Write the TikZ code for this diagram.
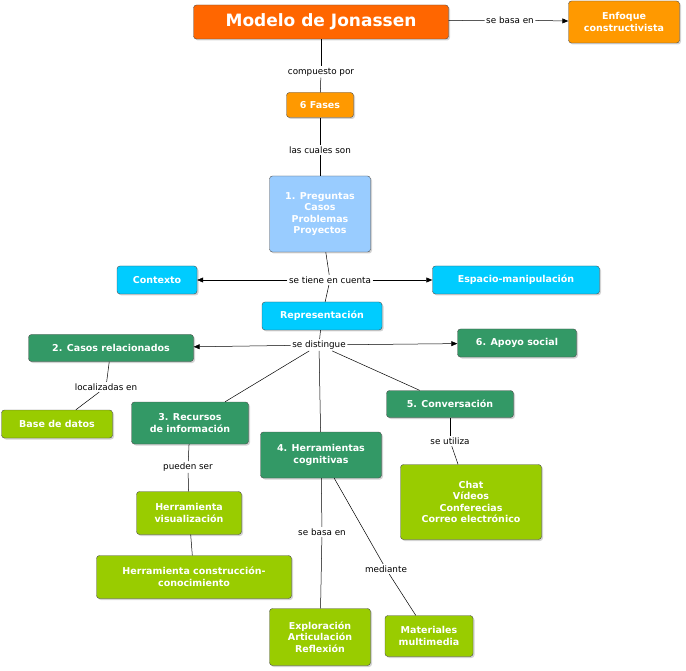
\documentclass[tikz,border=0pt]{standalone}
\usepackage{fontspec}
\setmainfont{DejaVu Sans}
\usetikzlibrary{arrows.meta,shadows}
\definecolor{cRed}{HTML}{FF6600}
\definecolor{cOr}{HTML}{FF9900}
\definecolor{cLb}{HTML}{99CCFF}
\definecolor{cCy}{HTML}{00CCFF}
\definecolor{cGr}{HTML}{339966}
\definecolor{cYg}{HTML}{99CC00}
\begin{document}
\begin{tikzpicture}[x=1pt,y=-1pt,
 box/.style={draw=black!70,rounded corners=3pt,align=center,font=\fontsize{9.5}{11.5}\selectfont\bfseries,text=white,inner sep=3pt,drop shadow={shadow xshift=1.5pt,shadow yshift=-1.5pt,opacity=.35}},
 lbl/.style={fill=white,inner sep=1.5pt,font=\fontsize{8.8}{10}\selectfont,text=black},
 ln/.style={draw=black,line width=0.5pt},
 ar/.style={ln,-{Triangle[length=6pt,width=5pt]}}]
\useasboundingbox (0,0) rectangle (686,671);
\node[box,fill=cRed,minimum width=255,minimum height=34,font=\fontsize{17}{20}\selectfont\bfseries] (mj) at (321,22) {Modelo de Jonassen};
\node[box,fill=cOr,minimum width=111,minimum height=42] (ec) at (624,22) {Enfoque\\constructivista};
\node[box,fill=cOr,minimum width=67,minimum height=25] (f6) at (320,105) {6 Fases};
\node[box,fill=cLb,minimum width=101,minimum height=76] (pr) at (320,214) {1. Preguntas\\Casos\\Problemas\\Proyectos};
\node[box,fill=cCy,minimum width=80,minimum height=28] (ctx) at (157,280) {Contexto};
\node[box,fill=cCy,minimum width=167,minimum height=28] (esp) at (516,280) {Espacio-manipulación};
\node[box,fill=cCy,minimum width=120,minimum height=28] (rep) at (322,316) {Representación};
\node[box,fill=cGr,minimum width=165,minimum height=27] (cas) at (111,348) {2. Casos relacionados};
\node[box,fill=cGr,minimum width=119,minimum height=28] (apo) at (517,343) {6. Apoyo social};
\node[box,fill=cYg,minimum width=111,minimum height=28] (bd) at (57,424) {Base de datos};
\node[box,fill=cGr,minimum width=117,minimum height=42] (rec) at (190,423) {3. Recursos\\de información};
\node[box,fill=cGr,minimum width=121,minimum height=46] (her) at (321,455) {4. Herramientas\\cognitivas};
\node[box,fill=cGr,minimum width=127,minimum height=27] (con) at (450,404) {5. Conversación};
\node[box,fill=cYg,minimum width=141,minimum height=75] (cha) at (471,502) {Chat\\Vídeos\\Conferecias\\Correo electrónico};
\node[box,fill=cYg,minimum width=105,minimum height=43] (hv) at (189,513) {Herramienta\\visualización};
\node[box,fill=cYg,minimum width=195,minimum height=43] (hc) at (194,577) {Herramienta construcción-\\conocimiento};
\node[box,fill=cYg,minimum width=101,minimum height=57] (exp) at (320,637) {Exploración\\Articulación\\Reflexión};
\node[box,fill=cYg,minimum width=88,minimum height=41] (mat) at (429,636) {Materiales\\multimedia};
\node[lbl] (l1) at (510,20) {se basa en};
\node[lbl] (l2) at (321,72) {compuesto por};
\node[lbl] (l3) at (320,150) {las cuales son};
\node[lbl] (l4) at (330,280) {se tiene en cuenta};
\node[lbl] (l5) at (319,345) {se distingue};
\node[lbl] (l6) at (106,387) {localizadas en};
\node[lbl] (l7) at (450,441) {se utiliza};
\node[lbl] (l8) at (188,467) {pueden ser};
\node[lbl] (l9) at (322,532) {se basa en};
\node[lbl] (l10) at (386,569) {mediante};
\begin{scope}[on background layer/.style={}]
\draw[ln] (mj) -- (l1); \draw[ar] (l1) -- (ec);
\draw[ln] (mj) -- (l2); \draw[ln] (l2) -- (f6);
\draw[ln] (f6) -- (l3); \draw[ln] (l3) -- (pr);
\draw[ln] (pr) -- (l4); \draw[ar] (l4) -- (ctx); \draw[ar] (l4) -- (esp);
\draw[ln] (l4) -- (rep);
\draw[ln] (rep) -- (l5); \draw[ar] (l5) -- (cas); \draw[ar] (l5) -- (apo);
\draw[ln] (l5) -- (rec); \draw[ln] (l5) -- (her); \draw[ln] (l5) -- (con);
\draw[ln] (cas) -- (l6); \draw[ln] (l6) -- (bd);
\draw[ln] (rec) -- (l8); \draw[ln] (l8) -- (hv); \draw[ln] (hv) -- (hc);
\draw[ln] (her) -- (l9); \draw[ln] (l9) -- (exp);
\draw[ln] (her) -- (l10); \draw[ln] (l10) -- (mat);
\draw[ln] (con) -- (l7); \draw[ln] (l7) -- (cha);
\end{scope}
\end{tikzpicture}
\end{document}
